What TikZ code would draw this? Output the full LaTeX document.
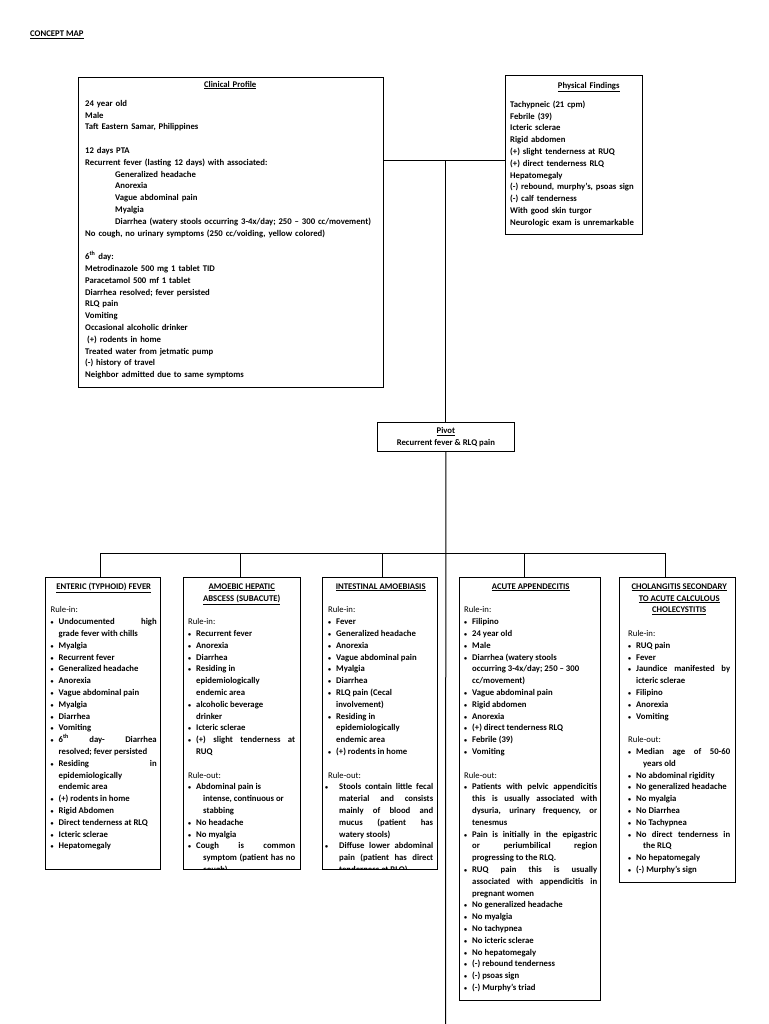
\documentclass[tikz,border=0pt]{standalone}
\usepackage{fontspec}
\setmainfont{Carlito}
\usetikzlibrary{positioning}

\setlength{\parindent}{0pt}
\newlength{\bulw}\setlength{\bulw}{8pt}
\newcommand{\bodyfont}{\fontsize{8.7}{11.8}\selectfont\bfseries}
\newcommand{\bulletmark}{{\fontsize{6}{6}\selectfont\textbullet}}
%% bullet item, optional width of the hanging indent
\newcommand{\bul}[2][\bulw]{\par\hangindent=#1\hangafter=1\noindent\makebox[\bulw][l]{\bulletmark}#2}
%% bullet pushed to the left, text set further in
\newcommand{\bulb}[1]{\par\hangindent=11pt\hangafter=1\noindent\hspace*{-3pt}\makebox[14pt][l]{\bulletmark}#1}
\newcommand{\blank}{\par\vspace{\baselineskip}}
\newcommand{\rulelbl}[1]{\par{\mdseries #1}}
\newcommand{\boxttl}[1]{{\centering\rule{0pt}{7pt}#1\par}}
%% full justification, no hyphens
\newcommand{\justif}{\rightskip=0pt\relax\leftskip=0pt\relax\spaceskip=0pt\relax\xspaceskip=0pt\relax
  \parfillskip=0pt plus 1fil\relax\hyphenpenalty=10000\relax\tolerance=9999\relax}

\begin{document}
\begin{tikzpicture}[
      x=1pt, y=-1pt,%
      framebox/.style={draw, line width=.8pt, inner sep=0pt, anchor=north west},%
      bodytext/.style={inner sep=0pt, anchor=north west, font=\bodyfont},%
      linkline/.style={line width=1pt}%
    ]
    \path[fill=white] (0,0) rectangle (768,1024);
    \useasboundingbox (0,0) rectangle (768,1024);

    \node[bodytext, anchor=west] (maptitle) at (30,35) {\underline{CONCEPT MAP}};

    %% Clinical profile
    \node[framebox, minimum width=305pt, minimum height=310pt] (clin) at (78,77) {};
    \node[bodytext, text width=290pt] (clintxt) at ([xshift=7pt,yshift=-3pt]clin.north west) {%
      \boxttl{\underline{Clinical Profile}}\vspace{7.3pt}
      24 year old\\
      Male\\
      Taft Eastern Samar, Philippines\\[\baselineskip]
      12 days PTA\\
      Recurrent fever (lasting 12 days) with associated:\\
      \hspace*{30pt}Generalized headache\\
      \hspace*{30pt}Anorexia\\
      \hspace*{30pt}Vague abdominal pain\\
      \hspace*{30pt}Myalgia\\
      \hspace*{30pt}Diarrhea (watery stools occurring 3-4x/day; 250 -- 300 cc/movement)\\
      No cough, no urinary symptoms (250 cc/voiding, yellow colored)\\[\baselineskip]
      6\textsuperscript{th} day:\\
      Metrodinazole 500 mg 1 tablet TID\\
      Paracetamol 500 mf 1 tablet\\
      Diarrhea resolved; fever persisted\\
      RLQ pain\\
      Vomiting\\
      Occasional alcoholic drinker\\
      \hspace*{2pt}(+) rodents in home\\
      Treated water from jetmatic pump\\
      (-) history of travel\\
      Neighbor admitted due to same symptoms};

    %% Physical findings
    \node[framebox, minimum width=137pt, minimum height=159pt] (phys) at (505,75) {};
    \node[bodytext, text width=129pt] (phystxt) at ([xshift=5pt,yshift=-6pt]phys.north west) {%
      \boxttl{\hspace*{28pt}\underline{Physical Findings}}\vspace{7.3pt}
      Tachypneic (21 cpm)\\
      Febrile (39)\\
      Icteric sclerae\\
      Rigid abdomen\\
      (+) slight tenderness at RUQ\\
      (+) direct tenderness RLQ\\
      Hepatomegaly\\
      (-) rebound, murphy's, psoas sign\\
      (-) calf tenderness\\
      With good skin turgor\\
      Neurologic exam is unremarkable};

    \coordinate (join) at (445.5,161);
    \draw[linkline] (clin.east |- join) -- (phys.west |- join);
    \draw[linkline] (join) -- (445.5,422);

    %% Pivot
    \node[framebox, minimum width=137pt, minimum height=29pt, align=center, font=\bodyfont] (piv) at (377,422)
      {\underline{Pivot}\\Recurrent fever \& RLQ pain};
    \coordinate (pend) at (445.5,1024);
    \coordinate (fork) at (445.5,553);
    \draw[linkline] (piv.south) -- (pend);

    %% Differentials
    \node[framebox, minimum width=115pt, minimum height=292pt] (ent) at (45,577) {};
    \node[framebox, minimum width=117pt, minimum height=292pt] (amoeb) at (183,577) {};
    \node[framebox, minimum width=115pt, minimum height=292pt] (intest) at (322,577) {};
    \node[framebox, minimum width=141pt, minimum height=423pt] (acute) at (459,577) {};
    \node[framebox, minimum width=116pt, minimum height=305pt] (chol) at (619,577) {};

    \draw[linkline] ([xshift=-2.5pt]ent.north |- fork) -- ([xshift=-12pt]chol.north |- fork);
    \foreach \b/\dx in {ent/-2.5, amoeb/-1.5, intest/2.5, acute/-5.5, chol/-12}
      \draw[linkline] ([xshift=\dx pt]\b.north |- fork) -- ([xshift=\dx pt]\b.north);

    \node[bodytext, text width=106pt] (enttxt) at ([xshift=5.5pt,yshift=-5pt]ent.north west) {%
      \justif
      \boxttl{\underline{ENTERIC (TYPHOID) FEVER}}
      \blank
      \rulelbl{Rule-in:}
      \bul{Undocumented high\linebreak grade fever with chills}
      \bul{Myalgia}
      \bul{Recurrent fever}
      \bul{Generalized headache}
      \bul{Anorexia}
      \bul{Vague abdominal pain}
      \bul{Myalgia}
      \bul{Diarrhea}
      \bul{Vomiting}
      \bul{6\textsuperscript{th} day- Diarrhea\linebreak resolved; fever persisted}
      \bul{Residing in\linebreak epidemiologically\newline endemic area}
      \bul{(+) rodents in home}
      \bul{Rigid Abdomen}
      \bul{Direct tenderness at RLQ}
      \bul{Icteric sclerae}
      \bul{Hepatomegaly}\par};

    \begin{scope}
      \clip (amoeb.south west) rectangle (amoeb.north east);
      \node[bodytext, text width=107pt] (amoebtxt) at ([xshift=5pt,yshift=-5pt]amoeb.north west) {%
        \justif
        \boxttl{\underline{AMOEBIC HEPATIC}\\\underline{ABSCESS (SUBACUTE)}}
        \blank
        \rulelbl{Rule-in:}
        \bul{Recurrent fever}
        \bul{Anorexia}
        \bul{Diarrhea}
        \bul{Residing in\newline epidemiologically\newline endemic area}
        \bul{alcoholic beverage\newline drinker}
        \bul{Icteric sclerae}
        \bul{(+) slight tenderness at\linebreak RUQ}
        \blank
        \rulelbl{Rule-out:}
        \bul[15pt]{Abdominal pain is\newline intense, continuous or\newline stabbing}
        \bul{No headache}
        \bul{No myalgia}
        \bul[15pt]{Cough is common\linebreak symptom (patient has no\linebreak cough)}\par};
    \end{scope}

    \begin{scope}
      \clip (intest.south west) rectangle (intest.north east);
      \node[bodytext, text width=105pt] (intesttxt) at ([xshift=6pt,yshift=-5pt]intest.north west) {%
        \justif
        \boxttl{\underline{INTESTINAL AMOEBIASIS}}
        \blank
        \rulelbl{Rule-in:}
        \bul{Fever}
        \bul{Generalized headache}
        \bul{Anorexia}
        \bul{Vague abdominal pain}
        \bul{Myalgia}
        \bul{Diarrhea}
        \bul{RLQ pain (Cecal\newline involvement)}
        \bul{Residing in\newline epidemiologically\newline endemic area}
        \bul{(+) rodents in home}
        \blank
        \rulelbl{Rule-out:}
        \bulb{Stools contain little fecal\linebreak material and consists\linebreak mainly of blood and\linebreak mucus (patient has\linebreak watery stools)}
        \bulb{Diffuse lower abdominal\linebreak pain (patient has direct\linebreak tenderness at RLQ)}\par};
    \end{scope}

    \node[bodytext, text width=133pt] (acutetxt) at ([xshift=5pt,yshift=-5pt]acute.north west) {%
      \justif
      \boxttl{\underline{ACUTE APPENDECITIS}}
      \blank
      \rulelbl{Rule-in:}
      \bul{Filipino}
      \bul{24 year old}
      \bul{Male}
      \bul{Diarrhea (watery stools\newline occurring 3-4x/day; 250 -- 300\newline cc/movement)}
      \bul{Vague abdominal pain}
      \bul{Rigid abdomen}
      \bul{Anorexia}
      \bul{(+) direct tenderness RLQ}
      \bul{Febrile (39)}
      \bul{Vomiting}
      \blank
      \rulelbl{Rule-out:}
      \bul{Patients with pelvic appendicitis\linebreak this is usually associated with\linebreak dysuria, urinary frequency, or\linebreak tenesmus}
      \bul{Pain is initially in the epigastric\linebreak or periumbilical region\linebreak progressing to the RLQ.}
      \bul{RUQ pain this is usually\linebreak associated with appendicitis in\linebreak pregnant women}
      \bul{No generalized headache}
      \bul{No myalgia}
      \bul{No tachypnea}
      \bul{No icteric sclerae}
      \bul{No hepatomegaly}
      \bul{(-) rebound tenderness}
      \bul{(-) psoas sign}
      \bul{(-) Murphy's triad}\par};

    \node[bodytext, text width=102pt] (choltxt) at ([xshift=9pt,yshift=-5pt]chol.north west) {%
      \justif
      \boxttl{\underline{CHOLANGITIS SECONDARY}\\\underline{TO ACUTE CALCULOUS}\\\underline{CHOLECYSTITIS}}
      \blank
      \rulelbl{Rule-in:}
      \bul{RUQ pain}
      \bul{Fever}
      \bul{Jaundice manifested by\linebreak icteric sclerae}
      \bul{Filipino}
      \bul{Anorexia}
      \bul{Vomiting}
      \blank
      \rulelbl{Rule-out:}
      \bul[15pt]{Median age of 50-60\linebreak years old}
      \bul{No abdominal rigidity}
      \bul{No generalized headache}
      \bul{No myalgia}
      \bul{No Diarrhea}
      \bul{No Tachypnea}
      \bul[15pt]{No direct tenderness in\linebreak the RLQ}
      \bul{No hepatomegaly}
      \bul{(-) Murphy's sign}\par};
  \end{tikzpicture}
\end{document}
